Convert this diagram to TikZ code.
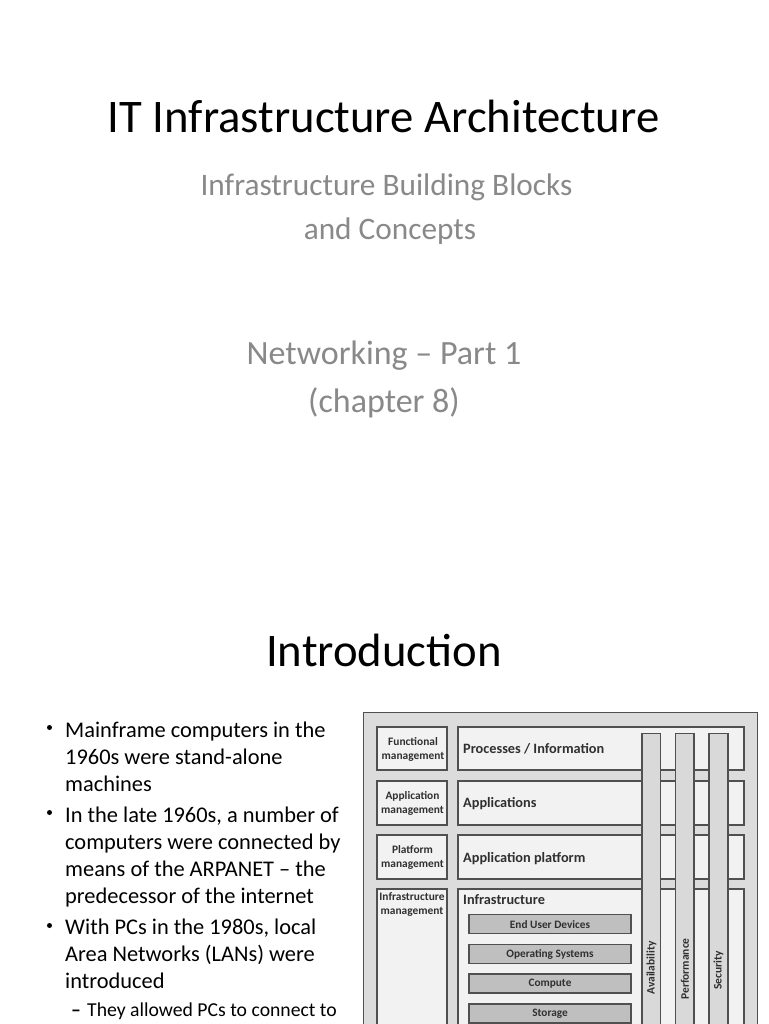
\documentclass[tikz,border=0pt]{standalone}
\usepackage{fontspec}
\setmainfont{Carlito}
\definecolor{subgrey}{HTML}{898989}
\definecolor{panel}{HTML}{DCDCDC}
\definecolor{light}{HTML}{F2F2F2}
\definecolor{midbox}{HTML}{BFBFBF}
\definecolor{barfill}{HTML}{D9D9D9}
\definecolor{edge}{HTML}{505050}
\definecolor{ink}{HTML}{303030}
\tikzset{
 px/.style={x=1pt,y=-1pt},
 title/.style={inner sep=0pt,text=black,font=\fontsize{46.7}{47}\selectfont,anchor=base},
 sub/.style={inner sep=0pt,text=subgrey,font=\fontsize{31.3}{30}\selectfont,anchor=base},
 subbig/.style={inner sep=0pt,text=subgrey,font=\fontsize{34}{30}\selectfont,anchor=base},
 bodytext/.style={inner sep=0pt,text=black,font=\fontsize{22.4}{22}\selectfont,anchor=base west},
 subtext/.style={inner sep=0pt,text=black,font=\fontsize{19.7}{20}\selectfont,anchor=base west},
 blockbox/.style={draw=edge,line width=1.1pt,fill=light},
 innerbox/.style={draw=edge,line width=1.1pt,fill=midbox},
 barbox/.style={draw=edge,line width=1.1pt,fill=barfill},
 mgmt/.style={inner sep=0pt,text=ink,align=center,font=\fontsize{11.4}{14}\selectfont\bfseries},
 head/.style={inner sep=0pt,text=ink,anchor=base west,font=\fontsize{14.3}{14}\selectfont\bfseries},
 small/.style={inner sep=0pt,text=ink,font=\fontsize{11.3}{12}\selectfont\bfseries},
 vert/.style={inner sep=0pt,text=ink,rotate=90,font=\fontsize{11.5}{12}\selectfont\bfseries},
 dot/.style={circle,fill=black,inner sep=0pt,minimum size=5pt},
}
\begin{document}
\begin{tikzpicture}[px]
\useasboundingbox (0,0) rectangle (768,1024);
\clip (0,0) rectangle (768,1024);
\fill[white] (0,0) rectangle (768,1024);
\node[title] (t1) at (383.5,133) {IT Infrastructure Architecture};
\node[sub] (s1) at (386.5,196) {Infrastructure Building Blocks};
\node[sub] (s2) at (390,240) {and Concepts};
\node[subbig] (s3) at (384,364) {Networking – Part 1};
\node[subbig] (s4) at (384,412) {(chapter 8)};
\node[title] (t2) at (384,666) {Introduction};

\foreach \n/\y/\tx in {
 b1/737/Mainframe computers in the,
 b2/764/1960s were stand-alone,
 b3/791/machines,
 b4/822/In the late 1960s{,} a number of,
 b5/849/computers were connected by,
 b6/876/means of the ARPANET – the,
 b7/903/predecessor of the internet,
 b8/934/With PCs in the 1980s{,} local,
 b9/961/Area Networks (LANs) were,
 b10/988/introduced}
 {\node[bodytext] (\n) at (65,\y) {\tx};}
\foreach \n/\y in {d1/727.5,d2/812.5,d3/925.5}
 {\node[dot] (\n) at (49.5,\y) {};}
\node[subtext] (b11) at (87,1016) {They allowed PCs to connect to};
\node[subtext,font=\fontsize{19.7}{20}\selectfont\bfseries] (d4) at (71,1016) {–};

\draw[draw=edge,line width=1.3pt,fill=panel] (363.5,712.5) rectangle (757.5,1040);

\foreach \n/\ya/\yb in {1/727/770,2/781/825,3/835/879,4/889/1040}{
 \draw[blockbox] (377,\ya) rectangle (447,\yb);
 \draw[blockbox] (458,\ya) rectangle (744,\yb);
}
\node[mgmt] (m1) at (413,749) {Functional\\management};
\node[mgmt] (m2) at (412.5,803.5) {Application\\management};
\node[mgmt] (m3) at (412.5,857.5) {Platform\\management};
\node[mgmt] (m4) at (412,904.5) {Infrastructure\\management};
\node[head] (h1) at (463,753) {Processes / Information};
\node[head] (h2) at (463,807) {Applications};
\node[head] (h3) at (463,862) {Application platform};
\node[head] (h4) at (463,904) {Infrastructure};

\foreach \ya/\yb in {914.5/933.5,944.5/963.5,974/993,1004/1023}
 \draw[innerbox] (469,\ya) rectangle (631,\yb);
\node[small] (i1) at (550,924.5) {End User Devices};
\node[small] (i2) at (550,954.5) {Operating Systems};
\node[small] (i3) at (550,984) {Compute};
\node[small] (i4) at (550,1014) {Storage};

\draw[barbox] (642,733.5) rectangle (660.5,1040);
\draw[barbox] (675.5,733.5) rectangle (694,1040);
\draw[barbox] (709,733.5) rectangle (728,1040);
\node[vert] (v1) at (651.5,968) {Availability};
\node[vert] (v2) at (685,969) {Performance};
\node[vert] (v3) at (718.5,970.5) {Security};
\end{tikzpicture}
\end{document}
